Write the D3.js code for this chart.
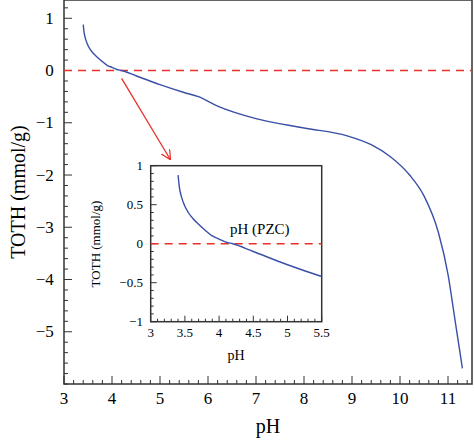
<!DOCTYPE html><html><head><meta charset="utf-8">
<script src="https://cdn.jsdelivr.net/npm/d3@7"></script>
<style>body{margin:0;background:#fff}text{font-family:"Liberation Serif",serif}</style></head><body>
<svg id="c" width="474" height="441"></svg>
<script>
const pH=[3.4,3.42,3.45,3.5,3.55,3.62,3.7,3.8,3.9,4.0,4.1,4.2,4.5,5.0,5.5,5.8,6.2,7.0,8.0,8.9,9.4,9.8,10.2,10.5,10.8,11.0,11.15,11.3];
const toth=[0.88,0.72,0.6,0.48,0.4,0.32,0.25,0.17,0.1,0.06,0.02,0.0,-0.1,-0.27,-0.42,-0.5,-0.68,-0.92,-1.1,-1.25,-1.42,-1.65,-2.0,-2.4,-3.1,-3.9,-4.8,-5.7];
const mainX=[3,4,5,6,7,8,9,10,11], mainY=[1,0,-1,-2,-3,-4,-5];
const insetX=[3,3.5,4,4.5,5,5.5], insetY=[1,0.5,0,-0.5,-1];
const pts=pH.map((p,i)=>[p,toth[i]]);
const svg=d3.select("#c");
const blue="#3a4fa8", red="#e8302a";
function panel(g,x,y,xt,yt,xm,ym,fs,maj,mn){
  const [x0,x1]=x.range(),[y1,y0]=y.range();
  const cid="cl"+Math.round(x0);
  g.append("clipPath").attr("id",cid).append("rect").attr("x",x0).attr("y",y0).attr("width",x1-x0).attr("height",y1-y0);
  g.append("rect").attr("x",x0).attr("y",y0).attr("width",x1-x0).attr("height",y1-y0).attr("fill","#fff").attr("stroke","#333").attr("stroke-width",1.5);
  xm.forEach(v=>g.append("line").attr("x1",x(v)).attr("x2",x(v)).attr("y1",y1).attr("y2",y1-(xt.some(t=>Math.abs(t-v)<1e-6)?maj:mn)).attr("stroke","#333"));
  ym.forEach(v=>g.append("line").attr("y1",y(v)).attr("y2",y(v)).attr("x1",x0).attr("x2",x0+(yt.some(t=>Math.abs(t-v)<1e-6)?maj:mn)).attr("stroke","#333"));
  xt.forEach(v=>g.append("text").attr("x",x(v)).attr("y",y1+fs*1.2).attr("text-anchor","middle").attr("font-size",fs).text(v<0?"\u2212"+(-v):v));
  yt.forEach(v=>g.append("text").attr("x",x0-fs*0.6).attr("y",y(v)+fs*0.33).attr("text-anchor","end").attr("font-size",fs).text(v<0?"\u2212"+(-v):v));
  g.append("line").attr("x1",x0).attr("x2",x1).attr("y1",y(0)).attr("y2",y(0)).attr("stroke",red).attr("stroke-width",1.5).attr("stroke-dasharray","8,6");
  g.append("path").attr("clip-path",`url(#${cid})`).attr("d",d3.line().x(d=>x(d[0])).y(d=>y(d[1])).curve(d3.curveMonotoneX)(pts)).attr("fill","none").attr("stroke",blue).attr("stroke-width",1.4);
}
const X=d3.scaleLinear([3,11.5],[64,472]), Y=d3.scaleLinear([-6,1.35],[384,0]);
const range=(a,b,s)=>d3.range(Math.round((b-a)/s)+1).map(i=>+(a+i*s).toFixed(3));
panel(svg.append("g"),X,Y,mainX,mainY,range(3,11.4,0.2),range(-6,1.2,0.2),17,8,4);
svg.append("text").attr("x",268).attr("y",433).attr("text-anchor","middle").attr("font-size",20).text("pH");
svg.append("text").attr("transform","translate(25,192) rotate(-90)").attr("text-anchor","middle").attr("font-size",20).text("TOTH (mmol/g)");
svg.append("defs").append("marker").attr("id","ah").attr("viewBox","0 0 10 10").attr("refX",9).attr("refY",5).attr("markerWidth",10).attr("markerHeight",10).attr("markerUnits","userSpaceOnUse").attr("orient","auto")
 .append("path").attr("d","M0,0L10,5L0,10").attr("fill","none").attr("stroke",red).attr("stroke-width",1.2);
svg.append("line").attr("x1",X(4.2)).attr("y1",Y(-0.15)).attr("x2",170).attr("y2",159).attr("stroke",red).attr("stroke-width",1.3).attr("marker-end","url(#ah)");
const ix=d3.scaleLinear([3,5.5],[150.7,321.7]), iy=d3.scaleLinear([-1,1],[321.7,165.7]);
panel(svg.append("g"),ix,iy,insetX,insetY,range(3,5.5,0.1),range(-1,1,0.1),13,6,3);
svg.append("text").attr("x",236).attr("y",360).attr("text-anchor","middle").attr("font-size",14).text("pH");
svg.append("text").attr("transform","translate(100,244) rotate(-90)").attr("text-anchor","middle").attr("font-size",13).text("TOTH (mmol/g)");
svg.append("text").attr("x",230).attr("y",234).attr("font-size",15).text("pH (PZC)");
</script></body></html>
